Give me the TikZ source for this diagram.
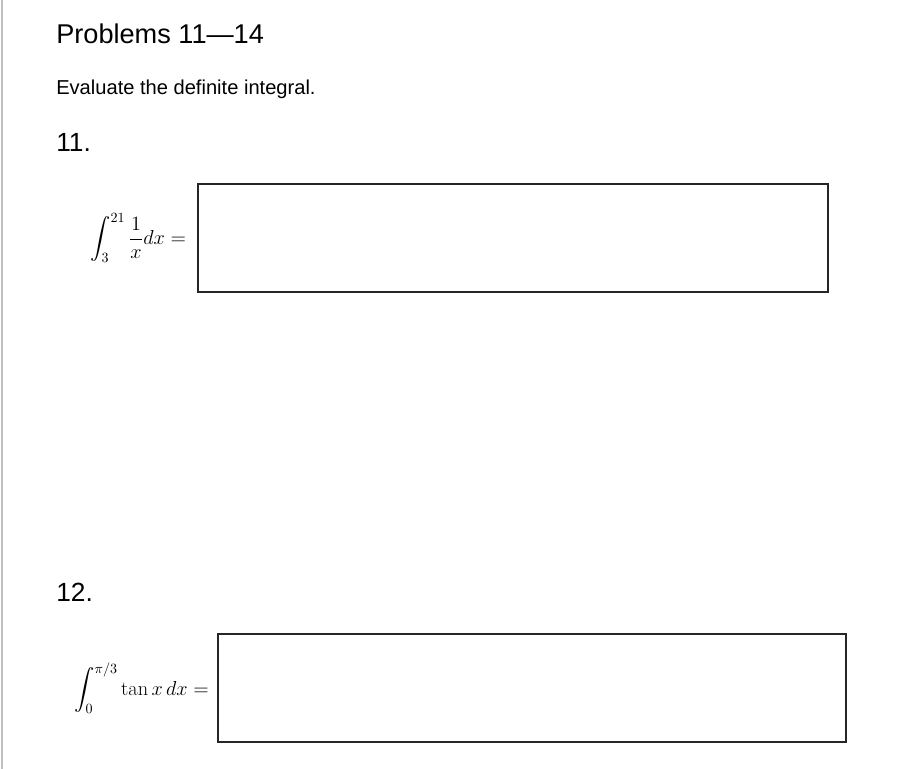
\documentclass[tikz,border=0pt]{standalone}
\usepackage{amsmath}
\usepackage{fontspec}
\setmainfont{Liberation Sans}
\newfontfamily\lmr{Latin Modern Roman}
\newcommand{\mytan}{\mathop{\text{\lmr tan}}\nolimits}
\begin{document}
\begin{tikzpicture}[x=0.025cm,y=-0.025cm,
  ansbox/.style={draw=black!85,line width=1.2pt},
  txt/.style={anchor=base west,inner sep=0pt}]
\useasboundingbox (0,0) rectangle (909,769);
\draw[black!25,line width=1pt] (2,0) -- (2,769);
\node[txt,font=\fontsize{19.3}{22}\selectfont] (title) at (56,44) {Problems 11—14};
\node[txt,font=\fontsize{14.3}{16}\selectfont] (instr) at (56,94) {Evaluate the definite integral.};
\node[txt,font=\fontsize{18.7}{20}\selectfont] (p11) at (56,151) {11.};
\node[txt,font=\fontsize{18.7}{20}\selectfont] (p12) at (56,601) {12.};
\node[anchor=west,inner sep=0pt,font=\fontsize{14.5}{16}\selectfont] (int1) at (90,238) {$\displaystyle\int_{3}^{21}\frac{1}{x}dx=$};
\node[anchor=west,inner sep=0pt,font=\fontsize{14.5}{16}\selectfont] (int2) at (74,688) {$\displaystyle\int_{0}^{\pi/3}\mytan x\,dx=$};
\draw[ansbox] (198,184) rectangle (828,292);
\draw[ansbox] (218,634) rectangle (846,742);
\end{tikzpicture}
\end{document}
